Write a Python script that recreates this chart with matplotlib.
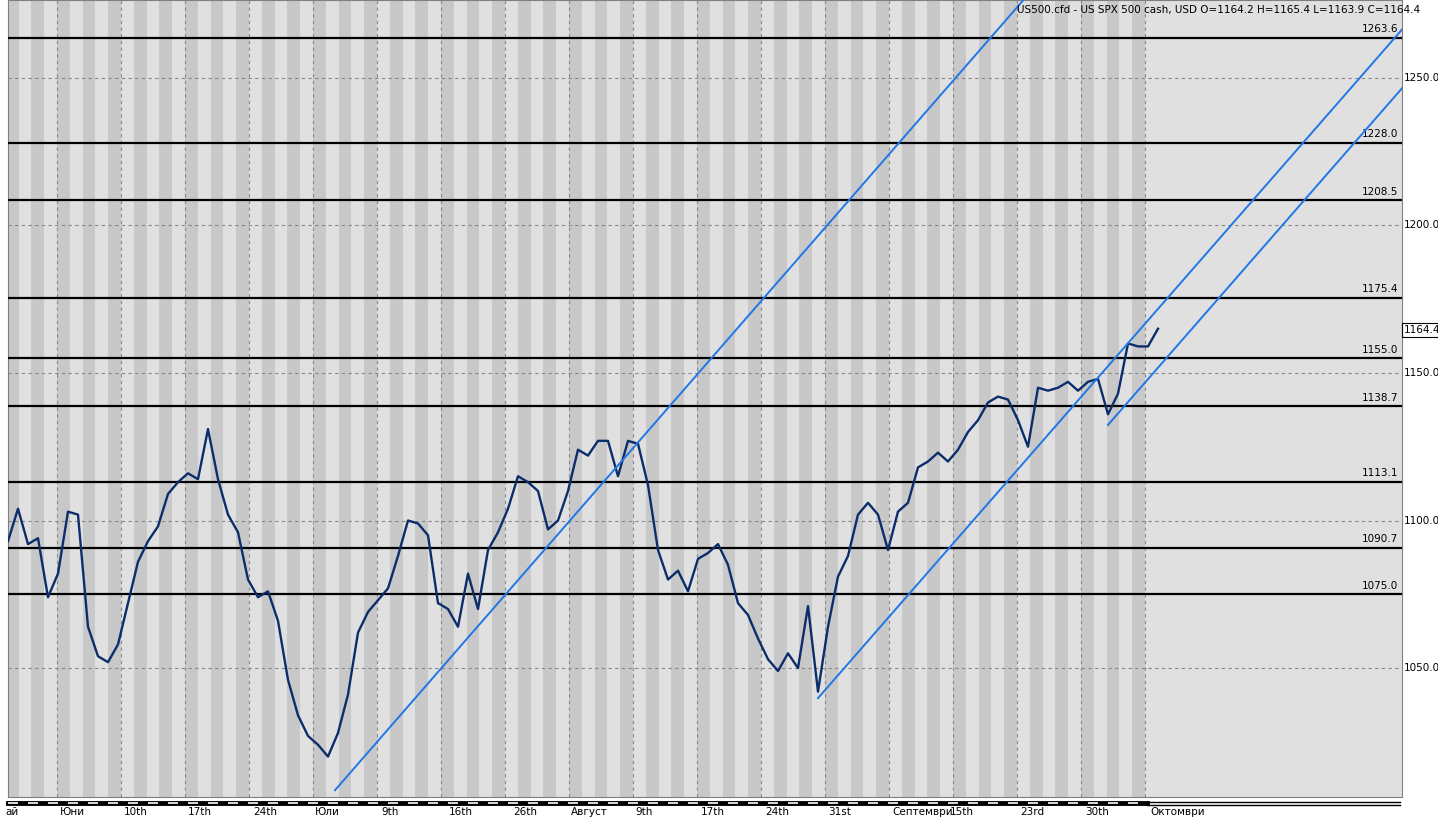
import matplotlib
matplotlib.use("Agg")
import matplotlib.pyplot as plt
import numpy as np

prices = [1093,1104,1092,1094,1074,1082,1103,1102,1064,1054,1052,1058,1072,1086,1093,1098,
          1109,1113,1116,1114,1131,1114,1102,1096,1080,1074,1076,1066,1046,1034,1027,1024,
          1020,1028,1041,1062,1069,1073,1077,1088,1100,1099,1095,1072,1070,1064,1082,1070,
          1090,1096,1104,1115,1113,1110,1097,1100,1110,1124,1122,1127,1127,1115,1127,1126,
          1112,1090,1080,1083,1076,1087,1089,1092,1085,1072,1068,1060,1053,1049,1055,1050,
          1071,1042,1064,1081,1088,1102,1106,1102,1090,1103,1106,1118,1120,1123,1120,1124,
          1130,1134,1140,1142,1141,1134,1125,1145,1144,1145,1147,1144,1147,1148,1136,1143,
          1160,1159,1159,1165]
levels = [1263.6,1228.0,1208.5,1175.4,1155.0,1138.7,1113.1,1090.7,1075.0]
grid_prices = [1050,1100,1150,1200,1250]
tick_labels = ["ай","Юни","10th","17th","24th","Юли","9th","16th","26th","Август","9th","17th",
               "24th","31st","Септември","15th","23rd","30th","Октомври"]
tick_pos = [-0.6,4.9,11.3,17.7,24.2,30.4,37.0,43.8,50.2,56.0,62.4,69.0,75.4,81.7,88.1,93.9,100.9,107.4,113.9]
channels = [((32.7,1008.6),3.89),((81.0,1039.8),3.88),((110.0,1132.4),3.88)]

W,H = 1438,823
fig = plt.figure(figsize=(W/100,H/100),dpi=100)
fig.patch.set_facecolor("white")
ax = fig.add_axes([8/W,(H-797)/H,1394/W,797/H])
ax.set_facecolor("#e0e0e0")
xmax = 139.4
ax.set_xlim(0,xmax); ax.set_ylim(1006.3,1276.4)

day = 1.28
first = 4.9
k = -4
while first+k*day < 114.1:
    a = first+k*day
    if k % 2 == 0:
        ax.axvspan(max(a,0),min(a+day,114.1),color="#c8c8c8",lw=0,zorder=0)
    k += 1
for w in np.arange(4.9,115,6.4):
    ax.axvline(w,color="#888888",ls=(0,(3,3)),lw=0.8,zorder=1)
for g in grid_prices:
    ax.axhline(g,color="#888888",ls=(0,(3,3)),lw=0.8,zorder=1)
    fig.text(1404/W,1-(78+(1250-g)*2.95)/H,f"{g:.1f}",fontsize=7.5,va="center",ha="left")
for L in levels:
    ax.axhline(L,color="black",lw=1.6,zorder=3)
    ax.text(139.0,L+1.2,f"{L:.1f}",ha="right",va="bottom",fontsize=7.5,zorder=4)

x = np.arange(len(prices))
ax.plot(x,prices,color="#0c2d6b",lw=1.7,zorder=5)

for (x0,y0),s in channels:
    x1 = xmax
    y1 = y0+s*(x1-x0)
    ax.plot([x0,x1],[y0,y1],color="#1f78e6",lw=1.4,zorder=6,clip_on=True)

ax.set_xticks([]); ax.set_yticks([])
for sp in ax.spines.values():
    sp.set_color("#808080")
ax.text(100.9,1276.4-10/2.95,"US500.cfd - US SPX 500 cash, USD O=1164.2 H=1165.4 L=1163.9 C=1164.4",
        fontsize=7.5,va="center",ha="left",zorder=7)
fig.text(1404/W,1-330/H,"1164.4",fontsize=7.5,va="center",ha="left",
         bbox=dict(boxstyle="square,pad=0.15",fc="white",ec="black",lw=0.8))
for p,l in zip(tick_pos,tick_labels):
    ax.text(p+0.3,1006.3-15/2.95,l,fontsize=7.5,ha="left",va="center",clip_on=False)
yb = 1-803/H
fig.add_artist(plt.Line2D([8/W,1147/W],[yb,yb],color="black",lw=3.5))
fig.add_artist(plt.Line2D([8/W,1147/W],[yb,yb],color="white",lw=1.2,ls=(0,(6,6))))
fig.add_artist(plt.Line2D([1147/W,1400/W],[yb+1.5/H,yb+1.5/H],color="black",lw=1))
fig.add_artist(plt.Line2D([1147/W,1400/W],[yb-1.5/H,yb-1.5/H],color="black",lw=1))
fig.savefig("out.png",dpi=100)
